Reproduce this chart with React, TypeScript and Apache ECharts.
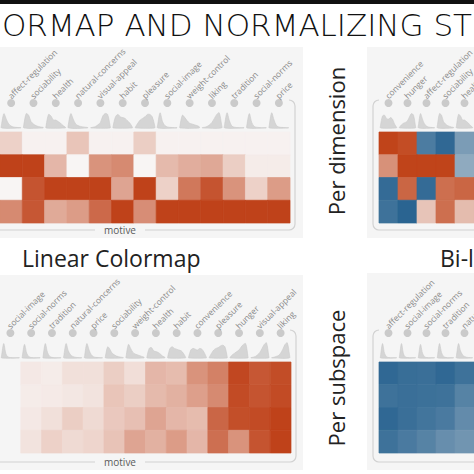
import { useEffect, useRef } from 'react';
import * as echarts from 'echarts';

const FONT = '"Open Sans", "Noto Sans", sans-serif';
const ROWS = ['1', '2', '3', '4'];

// ---- Per dimension ----
const dimLinearMotives = ['affect-regulation', 'sociability', 'health', 'natural-concerns', 'visual-appeal', 'habit', 'pleasure', 'social-image', 'weight-control', 'liking', 'tradition', 'social-norms', 'price'];
const dimLinearValues = [
  [0.2, 0.02, 0.02, 0.27, 0.02, 0.02, 0.22, 0.02, 0.02, 0.02, 0.02, 0.02, 0.02],
  [1.0, 1.0, 0.35, 0.0, 0.55, 0.6, 0.0, 0.33, 0.4, 0.43, 0.22, 0.05, 0.05],
  [0.0, 0.9, 1.0, 1.0, 1.0, 0.45, 1.0, 0.2, 0.7, 0.9, 0.55, 0.2, 0.5],
  [0.6, 0.88, 0.42, 0.5, 0.78, 1.0, 0.58, 1.0, 1.0, 1.0, 1.0, 1.0, 1.0],
];
const dimBiMotives = ['convenience', 'hunger', 'affect-regulation', 'sociability', 'health'];
const dimBiValues = [
  [1.0, 0.95, -0.83, -0.97, -0.6],
  [0.55, 1.0, 1.0, 1.0, -0.5],
  [-0.95, 0.8, -0.95, 0.75, 0.8],
  [-0.9, -1.0, 0.25, 0.75, 0.3],
];

// ---- Per subspace ----
const subLinearAxis = ['social-image', 'social-norms', 'tradition', 'natural-concerns', 'price', 'sociability', 'weight-control', 'health', 'habit', 'convenience', 'pleasure', 'hunger', 'visual-appeal', 'liking'];
const subLinearMotives = ['social-norms', 'tradition', 'natural-concerns', 'price', 'sociability', 'weight-control', 'health', 'habit', 'convenience', 'pleasure', 'hunger', 'visual-appeal', 'liking'];
const subLinearValues = [
  [0.07, 0.05, 0.12, 0.12, 0.22, 0.13, 0.35, 0.32, 0.55, 0.65, 0.97, 0.88, 0.94],
  [0.05, 0.06, 0.08, 0.1, 0.27, 0.22, 0.33, 0.38, 0.48, 0.6, 0.95, 0.9, 0.95],
  [0.07, 0.12, 0.22, 0.15, 0.25, 0.3, 0.45, 0.35, 0.32, 0.8, 0.93, 0.95, 1.0],
  [0.1, 0.2, 0.15, 0.18, 0.28, 0.45, 0.38, 0.5, 0.35, 0.75, 0.55, 0.9, 1.0],
];
const subBiMotives = ['affect-regulation', 'social-image', 'social-norms', 'tradition', 'natural-concerns'];
const subBiValues = [
  [-0.97, -0.93, -0.92, -0.97, -0.9],
  [-0.9, -0.92, -0.91, -0.9, -0.78],
  [-0.97, -0.92, -0.88, -0.84, -0.72],
  [-0.9, -0.84, -0.78, -0.7, -0.65],
];

// Distribution sketches drawn above each column (relative heights)
const dimDensity: Record<string, number[]> = {
  'convenience': [0.15, 0.75, 0.8, 0.6, 0.55, 0.65, 0.55, 0.25, 0.05],
  'hunger': [0.05, 0.2, 0.3, 0.35, 0.45, 0.7, 0.9, 0.8, 0.1],
  'affect-regulation': [0.2, 0.9, 0.55, 0.25, 0.12, 0.06, 0.04, 0.03, 0.02],
  'sociability': [0.2, 0.9, 0.8, 0.4, 0.25, 0.15, 0.1, 0.06, 0.04],
  'health': [0.15, 0.85, 0.75, 0.5, 0.5, 0.4, 0.3, 0.15, 0.05],
  'natural-concerns': [0.25, 0.9, 0.55, 0.25, 0.15, 0.1, 0.07, 0.05, 0.03],
  'visual-appeal': [0.02, 0.05, 0.1, 0.2, 0.35, 0.75, 0.9, 0.85, 0.15],
  'habit': [0.1, 0.7, 0.85, 0.7, 0.65, 0.6, 0.45, 0.3, 0.05],
  'pleasure': [0.05, 0.3, 0.5, 0.6, 0.7, 0.85, 0.85, 0.7, 0.15],
  'social-image': [0.2, 0.95, 0.4, 0.15, 0.07, 0.04, 0.03, 0.02, 0.02],
  'weight-control': [0.15, 0.8, 0.65, 0.45, 0.3, 0.25, 0.2, 0.15, 0.08],
  'liking': [0.02, 0.05, 0.1, 0.2, 0.35, 0.6, 0.85, 0.95, 0.2],
  'tradition': [0.2, 0.95, 0.45, 0.12, 0.05, 0.03, 0.02, 0.02, 0.02],
  'social-norms': [0.2, 0.9, 0.35, 0.1, 0.05, 0.03, 0.02, 0.02, 0.02],
  'price': [0.15, 0.95, 0.5, 0.15, 0.06, 0.04, 0.03, 0.02, 0.02],
};
const subDensity: Record<string, number[]> = {
  'affect-regulation': [0.1, 0.9, 0.3, 0.08, 0.03, 0.02, 0.02, 0.02, 0.02],
  'social-image': [0.1, 0.9, 0.25, 0.06, 0.03, 0.02, 0.02, 0.02, 0.02],
  'social-norms': [0.1, 0.85, 0.3, 0.08, 0.03, 0.02, 0.02, 0.02, 0.02],
  'tradition': [0.1, 0.9, 0.35, 0.1, 0.04, 0.02, 0.02, 0.02, 0.02],
  'natural-concerns': [0.15, 0.9, 0.45, 0.2, 0.1, 0.05, 0.03, 0.02, 0.02],
  'price': [0.15, 0.9, 0.5, 0.2, 0.08, 0.04, 0.03, 0.02, 0.02],
  'sociability': [0.1, 0.7, 0.55, 0.3, 0.2, 0.12, 0.08, 0.05, 0.03],
  'weight-control': [0.15, 0.85, 0.6, 0.35, 0.25, 0.2, 0.15, 0.1, 0.05],
  'health': [0.1, 0.6, 0.65, 0.45, 0.4, 0.35, 0.25, 0.12, 0.05],
  'habit': [0.1, 0.6, 0.7, 0.6, 0.55, 0.5, 0.45, 0.3, 0.05],
  'convenience': [0.05, 0.5, 0.6, 0.55, 0.5, 0.6, 0.55, 0.35, 0.05],
  'pleasure': [0.05, 0.3, 0.5, 0.6, 0.65, 0.75, 0.8, 0.7, 0.1],
  'hunger': [0.05, 0.2, 0.3, 0.4, 0.5, 0.7, 0.85, 0.9, 0.1],
  'visual-appeal': [0.02, 0.05, 0.1, 0.2, 0.35, 0.6, 0.85, 0.95, 0.15],
  'liking': [0.02, 0.05, 0.1, 0.15, 0.3, 0.55, 0.85, 0.95, 0.2],
};

const LINEAR_COLORS = ['#f8f5f4', '#bf421a'];
const BI_COLORS = ['#2a6491', '#f4efed', '#c0441a'];

const CELL = 22.67;
const PANEL_BG = '#f5f5f5';
const BORDER = '#d2d2d2';

// [column index on the axis, row index, value]
function cellData(axis: string[], motives: string[], rows: number[][]) {
  const out: number[][] = [];
  rows.forEach((row, r) => row.forEach((v, i) => out.push([axis.indexOf(motives[i]), r, v])));
  return out;
}

function cells(gridIndex: number, axis: string[], motives: string[], rows: number[][]) {
  return {
    type: 'custom',
    xAxisIndex: gridIndex,
    yAxisIndex: gridIndex,
    clip: false,
    z: 2,
    dimensions: ['col', 'row', 'value'],
    encode: { x: 0, y: 1 },
    data: cellData(axis, motives, rows),
    renderItem: (params: any, api: any) => {
      const c = api.coord([api.value(0), api.value(1)]);
      const s = api.size([1, 1]);
      const color = api.visual('color');
      return {
        type: 'rect',
        shape: { x: c[0] - s[0] / 2, y: c[1] - s[1] / 2, width: s[0], height: s[1] },
        style: { fill: color, stroke: color, lineWidth: 0.7 },
      };
    },
  };
}

// Motive name, marker dot and distribution sketch above each column
function ridge(gridIndex: number, axis: string[], dens: Record<string, number[]>) {
  return {
    type: 'custom',
    xAxisIndex: gridIndex,
    yAxisIndex: gridIndex,
    clip: false,
    z: 3,
    data: axis.map((_, i) => [i, 0]),
    renderItem: (params: any, api: any) => {
      const name = axis[params.dataIndex];
      const d = dens[name];
      const c = api.coord([api.value(0), 0]);
      const w = api.size([1, 0])[0];
      const top = params.coordSys.y;
      const base = top - 4;
      const x0 = c[0] - w / 2 + 1.5;
      const x1 = c[0] + w / 2 - 1.5;
      const pts: number[][] = [[x0, base]];
      d.forEach((v, k) => pts.push([x0 + ((x1 - x0) * k) / (d.length - 1), base - v * 16]));
      pts.push([x1, base]);
      return {
        type: 'group',
        children: [
          { type: 'polygon', shape: { points: pts, smooth: 0.3 }, style: { fill: '#d5d5d5', stroke: '#c9c9c9', lineWidth: 0.6 } },
          { type: 'circle', shape: { cx: c[0], cy: top - 29, r: 4 }, style: { fill: '#cacaca' } },
          {
            type: 'text', x: c[0] - 2, y: top - 35, rotation: Math.PI / 4,
            style: { text: name, fill: '#8a8a8a', fontSize: 8.5, fontFamily: FONT, align: 'left', verticalAlign: 'middle' },
          },
        ],
      };
    },
  };
}

function xAxis(gridIndex: number, data: string[]) {
  return {
    type: 'category', gridIndex, data, position: 'top',
    axisLine: { show: false }, axisTick: { show: false }, splitLine: { show: false }, axisLabel: { show: false },
  };
}

function yAxis(gridIndex: number) {
  return { type: 'category', gridIndex, data: ROWS, inverse: true, show: false };
}

// Rounded bracket framing a heatmap block (side + corners + bottom with a gap for its name)
function frame(side: 'left' | 'right', sx: number, top: number, bottom: number, edgeX: number, labelX: number | null) {
  const r = 6;
  const els: any[] = [];
  const st = { stroke: BORDER, lineWidth: 1.2, fill: 'none' };
  const line = (x1: number, y1: number, x2: number, y2: number) => ({ type: 'line', z: 5, shape: { x1, y1, x2, y2 }, style: st });
  els.push(line(sx, top + r, sx, bottom - r));
  if (side === 'right') {
    els.push({ type: 'arc', z: 5, shape: { cx: sx - r, cy: top + r, r, startAngle: -Math.PI / 2, endAngle: 0, clockwise: true }, style: st });
    els.push({ type: 'arc', z: 5, shape: { cx: sx - r, cy: bottom - r, r, startAngle: 0, endAngle: Math.PI / 2, clockwise: true }, style: st });
    els.push(line(edgeX, bottom, sx - r, bottom));
  } else {
    els.push({ type: 'arc', z: 5, shape: { cx: sx + r, cy: top + r, r, startAngle: Math.PI, endAngle: Math.PI * 1.5, clockwise: true }, style: st });
    els.push({ type: 'arc', z: 5, shape: { cx: sx + r, cy: bottom - r, r, startAngle: Math.PI / 2, endAngle: Math.PI, clockwise: true }, style: st });
    els.push(line(sx + r, bottom, edgeX, bottom));
  }
  if (labelX !== null) {
    els.push({
      type: 'text', z: 6, x: labelX, y: bottom,
      style: { text: 'motive', fill: '#5a5a5a', fontSize: 10, fontFamily: FONT, align: 'center', verticalAlign: 'middle', backgroundColor: PANEL_BG, padding: [1, 9] },
    });
  }
  return els;
}

export default function App() {
  const ref = useRef<HTMLDivElement>(null);

  useEffect(() => {
    if (!ref.current) return;
    const chart = echarts.init(ref.current, null, { renderer: 'svg' });

    const grids = [
      { left: 18 - CELL, top: 132, width: CELL * dimLinearMotives.length, height: 91 },
      { left: 379, top: 132, width: CELL * dimBiMotives.length, height: 91 },
      { left: 291 - CELL * subLinearAxis.length, top: 362, width: CELL * subLinearAxis.length, height: 91 },
      { left: 379, top: 362, width: CELL * subBiMotives.length, height: 91 },
    ];

    const graphic: any[] = [
      { type: 'rect', z: 0, shape: { x: 0, y: 0, width: 474, height: 4 }, style: { fill: '#111' } },
      { type: 'rect', z: 0, shape: { x: 0, y: 47, width: 303, height: 191 }, style: { fill: PANEL_BG } },
      { type: 'rect', z: 0, shape: { x: 367, y: 47, width: 107, height: 191 }, style: { fill: PANEL_BG } },
      { type: 'rect', z: 0, shape: { x: 0, y: 275, width: 303, height: 195 }, style: { fill: PANEL_BG } },
      { type: 'rect', z: 0, shape: { x: 367, y: 273, width: 107, height: 197 }, style: { fill: PANEL_BG } },
      {
        type: 'text', z: 1, x: 237, y: 25,
        style: { text: 'ORMAP AND NORMALIZING ST', fill: '#111', fontSize: 31, fontWeight: 200, fontFamily: '"DejaVu Sans", sans-serif', align: 'center', verticalAlign: 'middle' },
      },
      {
        type: 'text', z: 1, x: 22, y: 258,
        style: { text: 'Linear Colormap', fill: '#222', fontSize: 23, fontFamily: FONT, verticalAlign: 'middle' },
      },
      {
        type: 'text', z: 1, x: 440, y: 258,
        style: { text: 'Bi-l', fill: '#222', fontSize: 23, fontFamily: FONT, verticalAlign: 'middle' },
      },
      {
        type: 'text', z: 1, x: 336, y: 141, rotation: Math.PI / 2,
        style: { text: 'Per dimension', fill: '#222', fontSize: 22, fontFamily: FONT, align: 'center', verticalAlign: 'middle' },
      },
      {
        type: 'text', z: 1, x: 336, y: 378, rotation: Math.PI / 2,
        style: { text: 'Per subspace', fill: '#222', fontSize: 22, fontFamily: FONT, align: 'center', verticalAlign: 'middle' },
      },
      ...frame('right', 295, 100, 230, -10, 120),
      ...frame('left', 373, 100, 230, 480, null),
      ...frame('right', 296, 330, 462, -10, 120),
      ...frame('left', 373, 330, 462, 480, null),
    ];

    chart.setOption({
      animation: false,
      backgroundColor: '#ffffff',
      grid: grids.map((g) => ({ ...g, containLabel: false })),
      xAxis: [
        xAxis(0, dimLinearMotives),
        xAxis(1, dimBiMotives),
        xAxis(2, subLinearAxis),
        xAxis(3, subBiMotives),
      ],
      yAxis: [yAxis(0), yAxis(1), yAxis(2), yAxis(3)],
      visualMap: [
        { type: 'continuous', show: false, seriesIndex: 0, dimension: 2, min: 0, max: 1, inRange: { color: LINEAR_COLORS } },
        { type: 'continuous', show: false, seriesIndex: 1, dimension: 2, min: -1, max: 1, inRange: { color: BI_COLORS } },
        { type: 'continuous', show: false, seriesIndex: 2, dimension: 2, min: 0, max: 1, inRange: { color: LINEAR_COLORS } },
        { type: 'continuous', show: false, seriesIndex: 3, dimension: 2, min: -1, max: 1, inRange: { color: BI_COLORS } },
      ],
      graphic,
      series: [
        cells(0, dimLinearMotives, dimLinearMotives, dimLinearValues),
        cells(1, dimBiMotives, dimBiMotives, dimBiValues),
        cells(2, subLinearAxis, subLinearMotives, subLinearValues),
        cells(3, subBiMotives, subBiMotives, subBiValues),
        ridge(0, dimLinearMotives, dimDensity),
        ridge(1, dimBiMotives, dimDensity),
        ridge(2, subLinearAxis, subDensity),
        ridge(3, subBiMotives, subDensity),
      ],
    });

    return () => chart.dispose();
  }, []);

  return (
    <div
      ref={ref}
      style={{ position: 'fixed', left: 0, top: 0, width: 474, height: 474, background: '#fff' }}
    />
  );
}
